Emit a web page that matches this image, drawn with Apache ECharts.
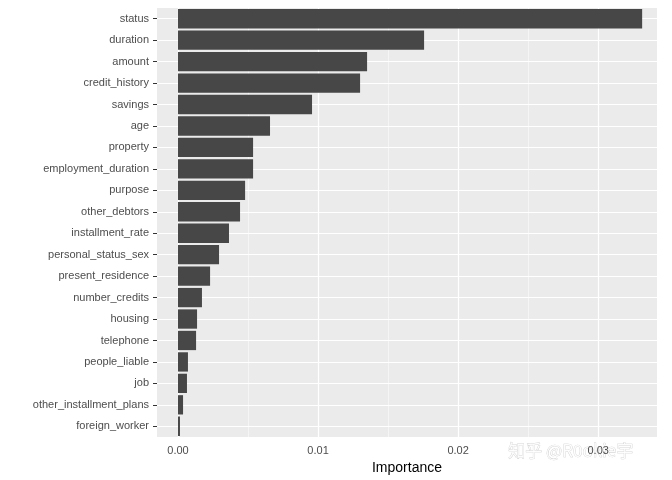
<!DOCTYPE html>
<html><head><meta charset="utf-8">
<script src="https://cdn.jsdelivr.net/npm/echarts@6/dist/echarts.min.js"></script>
<style>body{margin:0}#c{width:672px;height:480px}</style>
</head><body><div id="c"></div>
<script>
var features = ["status","duration","amount","credit_history","savings","age","property","employment_duration","purpose","other_debtors","installment_rate","personal_status_sex","present_residence","number_credits","housing","telephone","people_liable","job","other_installment_plans","foreign_worker"];
var importance = [0.03314,0.01757,0.0135,0.0130,0.00957,0.00657,0.00536,0.00536,0.00479,0.00443,0.00364,0.00293,0.00229,0.00171,0.00136,0.00129,0.00071,0.00064,0.00036,0.00014];
var majorTicks = [0, 0.01, 0.02, 0.03];
var minorTicks = [0.005, 0.015, 0.025];
var tickLabels = ["0.00","0.01","0.02","0.03"];
var rowLines = features.map(function (f, i) { return i; });

var chart = echarts.init(document.getElementById('c'));
chart.setOption({
    backgroundColor: '#fff',
    grid: {left: 157, right: 15, top: 8, bottom: 43, backgroundColor: '#EBEBEB', show: true, borderWidth: 0},
    xAxis: [{
        type: 'value', min: -0.0015, max: 0.0342,
        name: 'Importance', nameLocation: 'middle', nameGap: 24,
        nameTextStyle: {color: '#000', fontSize: 14, fontFamily: 'Liberation Sans'},
        axisLine: {show: false},
        axisTick: {show: true, customValues: majorTicks, length: 4, lineStyle: {color: '#333'}},
        axisLabel: {customValues: majorTicks, color: '#4d4d4d', fontSize: 11, fontFamily: 'Liberation Sans',
            formatter: function (v) { return tickLabels[majorTicks.indexOf(v)] || ''; }},
        splitLine: {show: true, lineStyle: {color: '#fff', width: 1.2}}
    }, {
        type: 'value', min: -0.0015, max: 0.0342, position: 'top',
        axisLine: {show: false}, axisLabel: {show: false},
        axisTick: {show: false, customValues: minorTicks},
        splitLine: {show: true, lineStyle: {color: '#fff', width: 0.5}}
    }],
    yAxis: [{
        type: 'category', data: features, inverse: true,
        axisLine: {show: false, onZero: false},
        axisTick: {show: true, length: 4, lineStyle: {color: '#333'}, alignWithLabel: true},
        axisLabel: {color: '#4d4d4d', fontSize: 11, fontFamily: 'Liberation Sans'},
        splitLine: {show: false}
    }, {
        type: 'value', min: -0.5, max: 19.5, inverse: true, position: 'right',
        axisLine: {show: false, onZero: false}, axisLabel: {show: false},
        axisTick: {show: false, customValues: rowLines},
        splitLine: {show: true, lineStyle: {color: '#fff', width: 1.2}}
    }],
    series: [{
        type: 'bar', data: importance, xAxisIndex: 0, yAxisIndex: 0, z: 3,
        barCategoryGap: '10%', itemStyle: {color: '#474747'}, silent: true
    }],
    graphic: [{
        type: 'text', left: 508, top: 442,
        style: {text: '知乎 @R0okie宇', fontSize: 17, fill: 'rgba(255,255,255,0.85)',
            fontFamily: 'Noto Sans CJK SC', stroke: 'rgba(160,160,160,0.6)', lineWidth: 0.6}
    }]
});
</script></body></html>
